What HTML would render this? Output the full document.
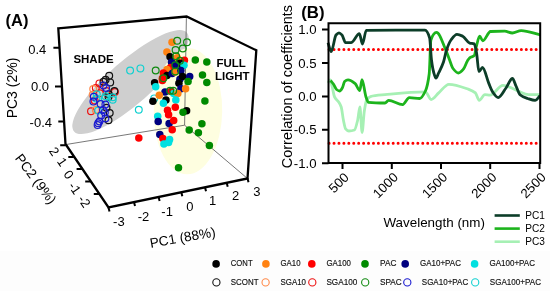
<!DOCTYPE html>
<html><head><meta charset="utf-8"><style>
html,body{margin:0;padding:0;background:#fff;width:550px;height:291px;overflow:hidden}
svg{display:block;will-change:transform}
text{font-family:"Liberation Sans",sans-serif}
</style></head><body>
<svg width="550" height="291" viewBox="0 0 550 291">
<rect x="0" y="251" width="550" height="40" fill="#fdfdfd"/>
<text x="5.5" y="25.6" font-size="16.5" text-anchor="start" font-weight="bold" fill="#000">(A)</text>
<ellipse cx="130.5" cy="82.05" rx="75" ry="21.5" transform="rotate(-41.18 130.5 82.05)" fill="#cfcfcf"/>
<ellipse cx="188" cy="111.3" rx="34.2" ry="63" transform="rotate(1 188 111.3)" fill="#fefee0"/>
<path d="M186.4 16.5 L184.6 125.2 M65.5 144.6 L184.6 125.2 L247.5 178.5" stroke="#555" stroke-width="0.8" fill="none"/>
<circle cx="154.2" cy="98.4" r="3.4" fill="none" stroke="#10d0d0" stroke-width="1.2"/>
<circle cx="172" cy="42.3" r="3.75" fill="#ff8212"/>
<circle cx="166.9" cy="52.1" r="3.75" fill="#ff8212"/>
<circle cx="170" cy="56.7" r="3.75" fill="#000"/>
<circle cx="177.2" cy="57.7" r="3.75" fill="#ff8212"/>
<circle cx="184.4" cy="60.3" r="3.75" fill="#ff0000"/>
<circle cx="171.5" cy="62.3" r="3.75" fill="#000080"/>
<circle cx="179.9" cy="63.2" r="3.75" fill="#000"/>
<circle cx="184" cy="65.3" r="3.75" fill="#00e0e0"/>
<circle cx="170.6" cy="67.4" r="3.75" fill="#ff0000"/>
<circle cx="167" cy="69.4" r="3.75" fill="#ff8212"/>
<circle cx="163.4" cy="73" r="3.75" fill="#ff0000"/>
<circle cx="167" cy="75.6" r="3.75" fill="#000"/>
<circle cx="162.4" cy="78.2" r="3.75" fill="#ff0000"/>
<circle cx="172.2" cy="73.6" r="3.75" fill="#000080"/>
<circle cx="175.5" cy="65" r="3.75" fill="#000080"/>
<circle cx="175.3" cy="72" r="3.75" fill="#ff8212"/>
<circle cx="180.9" cy="70.5" r="3.75" fill="#000080"/>
<circle cx="179.9" cy="79.2" r="3.75" fill="#000080"/>
<circle cx="182.5" cy="76.6" r="3.75" fill="#000"/>
<circle cx="189.7" cy="76.6" r="3.75" fill="#000080"/>
<circle cx="154.6" cy="82.8" r="3.75" fill="#000"/>
<circle cx="178.9" cy="83.2" r="3.75" fill="#000"/>
<circle cx="155.7" cy="86.7" r="3.75" fill="#00e0e0"/>
<circle cx="162.4" cy="80.5" r="3.75" fill="#ff0000"/>
<circle cx="180.9" cy="88.8" r="3.75" fill="#000080"/>
<circle cx="185.6" cy="88.8" r="3.75" fill="#ff8212"/>
<circle cx="188.1" cy="81.5" r="3.75" fill="#008a00"/>
<circle cx="165" cy="91.9" r="3.75" fill="#000080"/>
<circle cx="171.1" cy="91.3" r="3.75" fill="#ff0000"/>
<circle cx="173.7" cy="93.4" r="3.75" fill="#00e0e0"/>
<circle cx="159.3" cy="95.2" r="3.75" fill="#ff8212"/>
<circle cx="177.8" cy="93.4" r="3.75" fill="#ff8212"/>
<circle cx="152.9" cy="101.3" r="3.75" fill="#000"/>
<circle cx="166" cy="100.1" r="3.75" fill="#000"/>
<circle cx="163.4" cy="103.2" r="3.75" fill="#00e0e0"/>
<circle cx="175.8" cy="100.1" r="3.75" fill="#00e0e0"/>
<circle cx="175.3" cy="107.2" r="3.75" fill="#ff0000"/>
<circle cx="167.5" cy="110.3" r="3.75" fill="#ff0000"/>
<circle cx="168.6" cy="114.8" r="3.75" fill="#ff0000"/>
<circle cx="186.6" cy="110.7" r="3.75" fill="#000"/>
<circle cx="183" cy="112.2" r="3.75" fill="#008a00"/>
<circle cx="157.7" cy="116.3" r="3.75" fill="#00e0e0"/>
<circle cx="158.2" cy="121.5" r="3.75" fill="#000080"/>
<circle cx="169.1" cy="123.6" r="3.75" fill="#000080"/>
<circle cx="173.7" cy="120.5" r="3.75" fill="#ff0000"/>
<circle cx="172.2" cy="129.7" r="3.75" fill="#ff0000"/>
<circle cx="159.8" cy="134.6" r="3.75" fill="#000080"/>
<circle cx="162.9" cy="138.4" r="3.75" fill="#ff0000"/>
<circle cx="169.6" cy="139.4" r="3.75" fill="#00e0e0"/>
<circle cx="168.6" cy="142.5" r="3.75" fill="#00e0e0"/>
<circle cx="163.9" cy="144.1" r="3.75" fill="#00e0e0"/>
<circle cx="138.8" cy="138" r="3.75" fill="#ff0000"/>
<circle cx="195.3" cy="60" r="3.75" fill="#008a00"/>
<circle cx="206.8" cy="62" r="3.75" fill="#008a00"/>
<circle cx="202.5" cy="74.9" r="3.75" fill="#008a00"/>
<circle cx="206.8" cy="82.6" r="3.75" fill="#008a00"/>
<circle cx="204.9" cy="101.1" r="3.75" fill="#008a00"/>
<circle cx="201.9" cy="123.8" r="3.75" fill="#008a00"/>
<circle cx="198.4" cy="132.7" r="3.75" fill="#008a00"/>
<circle cx="189.2" cy="130" r="3.75" fill="#008a00"/>
<circle cx="209.4" cy="145.6" r="3.75" fill="#008a00"/>
<circle cx="178.5" cy="167.7" r="3.75" fill="#008a00"/>
<circle cx="177.2" cy="40.7" r="3.4" fill="none" stroke="#108a10" stroke-width="1.2"/>
<circle cx="187" cy="42.3" r="3.4" fill="none" stroke="#108a10" stroke-width="1.2"/>
<circle cx="175.6" cy="50" r="3.4" fill="none" stroke="#108a10" stroke-width="1.2"/>
<circle cx="182.8" cy="48.5" r="3.4" fill="none" stroke="#108a10" stroke-width="1.2"/>
<circle cx="176.1" cy="56.2" r="3.4" fill="none" stroke="#108a10" stroke-width="1.2"/>
<circle cx="179.9" cy="60.7" r="3.4" fill="none" stroke="#108a10" stroke-width="1.2"/>
<circle cx="175.3" cy="65.3" r="3.4" fill="none" stroke="#108a10" stroke-width="1.2"/>
<circle cx="175.3" cy="71.5" r="3.4" fill="none" stroke="#108a10" stroke-width="1.2"/>
<circle cx="163.4" cy="78.2" r="3.4" fill="none" stroke="#108a10" stroke-width="1.2"/>
<circle cx="170.1" cy="90.8" r="3.4" fill="none" stroke="#108a10" stroke-width="1.2"/>
<circle cx="173.2" cy="90.8" r="3.4" fill="none" stroke="#108a10" stroke-width="1.2"/>
<circle cx="155.7" cy="70.5" r="3.4" fill="none" stroke="#108a10" stroke-width="1.2"/>
<circle cx="130.1" cy="70.6" r="3.4" fill="none" stroke="#10d0d0" stroke-width="1.2"/>
<circle cx="140.4" cy="68.4" r="3.4" fill="none" stroke="#10d0d0" stroke-width="1.2"/>
<circle cx="138.8" cy="109.7" r="3.4" fill="none" stroke="#10d0d0" stroke-width="1.2"/>
<circle cx="99.4" cy="83.4" r="3.4" fill="none" stroke="#ee1111" stroke-width="1.2"/>
<circle cx="95.8" cy="88" r="3.4" fill="none" stroke="#ee1111" stroke-width="1.2"/>
<circle cx="106.6" cy="91.1" r="3.4" fill="none" stroke="#ee1111" stroke-width="1.2"/>
<circle cx="114.9" cy="92.1" r="3.4" fill="none" stroke="#ee1111" stroke-width="1.2"/>
<circle cx="99.9" cy="93.2" r="3.4" fill="none" stroke="#ee1111" stroke-width="1.2"/>
<circle cx="94.6" cy="100.4" r="3.4" fill="none" stroke="#ee1111" stroke-width="1.2"/>
<circle cx="91" cy="111.2" r="3.4" fill="none" stroke="#ee1111" stroke-width="1.2"/>
<circle cx="93.2" cy="89" r="3.4" fill="none" stroke="#ff8a4a" stroke-width="1.2"/>
<circle cx="92.7" cy="94.7" r="3.4" fill="none" stroke="#ff8a4a" stroke-width="1.2"/>
<circle cx="95.8" cy="110" r="3.4" fill="none" stroke="#ff8a4a" stroke-width="1.2"/>
<circle cx="109.2" cy="75.7" r="3.4" fill="none" stroke="#111" stroke-width="1.2"/>
<circle cx="105.6" cy="79.8" r="3.4" fill="none" stroke="#111" stroke-width="1.2"/>
<circle cx="110.2" cy="82.4" r="3.4" fill="none" stroke="#111" stroke-width="1.2"/>
<circle cx="103.5" cy="81.8" r="3.4" fill="none" stroke="#111" stroke-width="1.2"/>
<circle cx="114.4" cy="91.1" r="3.4" fill="none" stroke="#111" stroke-width="1.2"/>
<circle cx="108.7" cy="94.2" r="3.4" fill="none" stroke="#111" stroke-width="1.2"/>
<circle cx="108.5" cy="96.8" r="3.4" fill="none" stroke="#111" stroke-width="1.2"/>
<circle cx="109.7" cy="113" r="3.4" fill="none" stroke="#111" stroke-width="1.2"/>
<circle cx="108.5" cy="120.3" r="3.4" fill="none" stroke="#111" stroke-width="1.2"/>
<circle cx="106.5" cy="107.7" r="3.4" fill="none" stroke="#111" stroke-width="1.2"/>
<circle cx="96.8" cy="94.2" r="3.4" fill="none" stroke="#10d0d0" stroke-width="1.2"/>
<circle cx="105.6" cy="96.3" r="3.4" fill="none" stroke="#10d0d0" stroke-width="1.2"/>
<circle cx="112.8" cy="97.3" r="3.4" fill="none" stroke="#10d0d0" stroke-width="1.2"/>
<circle cx="96.4" cy="98.6" r="3.4" fill="none" stroke="#10d0d0" stroke-width="1.2"/>
<circle cx="104.8" cy="98.6" r="3.4" fill="none" stroke="#10d0d0" stroke-width="1.2"/>
<circle cx="112.7" cy="99.8" r="3.4" fill="none" stroke="#10d0d0" stroke-width="1.2"/>
<circle cx="98.2" cy="110.6" r="3.4" fill="none" stroke="#10d0d0" stroke-width="1.2"/>
<circle cx="103.5" cy="85.4" r="3.4" fill="none" stroke="#1a1ad0" stroke-width="1.2"/>
<circle cx="106.1" cy="88" r="3.4" fill="none" stroke="#1a1ad0" stroke-width="1.2"/>
<circle cx="93.8" cy="96.8" r="3.4" fill="none" stroke="#1a1ad0" stroke-width="1.2"/>
<circle cx="93.4" cy="101.6" r="3.4" fill="none" stroke="#1a1ad0" stroke-width="1.2"/>
<circle cx="100.6" cy="104" r="3.4" fill="none" stroke="#1a1ad0" stroke-width="1.2"/>
<circle cx="105.4" cy="104.6" r="3.4" fill="none" stroke="#1a1ad0" stroke-width="1.2"/>
<circle cx="103" cy="110" r="3.4" fill="none" stroke="#1a1ad0" stroke-width="1.2"/>
<circle cx="101.2" cy="115.4" r="3.4" fill="none" stroke="#1a1ad0" stroke-width="1.2"/>
<circle cx="104.8" cy="112.4" r="3.4" fill="none" stroke="#1a1ad0" stroke-width="1.2"/>
<circle cx="105.4" cy="118.5" r="3.4" fill="none" stroke="#1a1ad0" stroke-width="1.2"/>
<circle cx="98.2" cy="123.3" r="3.4" fill="none" stroke="#1a1ad0" stroke-width="1.2"/>
<circle cx="99.4" cy="121.5" r="3.4" fill="none" stroke="#1a1ad0" stroke-width="1.2"/>
<circle cx="97.6" cy="125.1" r="3.4" fill="none" stroke="#1a1ad0" stroke-width="1.2"/>
<path d="M58.3 28.4 L186.6 16.5 L256.3 50.3 L247.5 178.5 L108.5 207.5 L65.5 144 Z" stroke="#000" stroke-width="2.3" fill="none" stroke-linejoin="miter"/>
<path d="M53.4 47.7 H59.4 M55 86.5 H61.4 M58.3 121.5 H63.3" stroke="#000" stroke-width="2"/>
<text x="46.3" y="53.5" font-size="13" text-anchor="end" font-weight="normal" fill="#000">0.4</text>
<text x="49" y="91" font-size="13" text-anchor="end" font-weight="normal" fill="#000">0.0</text>
<text x="52" y="127" font-size="13" text-anchor="end" font-weight="normal" fill="#000">-0.4</text>
<text x="17" y="88" font-size="14" text-anchor="middle" font-weight="normal" fill="#000" transform="rotate(-90 17 88)">PC3 (2%)</text>
<path d="M60.2 145.2 H65.7 M68.3 157 H73.8 M76.6 169 H82.1 M85.2 181.5 H90.7 M93.8 194 H99.3 " stroke="#000" stroke-width="2"/>
<text x="54.3" y="151.5" font-size="13" text-anchor="middle" dominant-baseline="central" transform="rotate(55 54.3 151.5)">2</text>
<text x="62.3" y="161.8" font-size="13" text-anchor="middle" dominant-baseline="central" transform="rotate(55 62.3 161.8)">1</text>
<text x="68.7" y="174.6" font-size="13" text-anchor="middle" dominant-baseline="central" transform="rotate(55 68.7 174.6)">0</text>
<text x="74.8" y="188.2" font-size="13" text-anchor="middle" dominant-baseline="central" transform="rotate(55 74.8 188.2)">-1</text>
<text x="84.2" y="201.4" font-size="13" text-anchor="middle" dominant-baseline="central" transform="rotate(55 84.2 201.4)">-2</text>
<text x="35.6" y="179" font-size="13.5" text-anchor="middle" dominant-baseline="central" transform="rotate(53 35.6 179)">PC2 (9%)</text>
<path d="M108.5 207.5 l1 4 M134.0 202.1 l1 4 M158.6 197.0 l1 4 M181.3 192.2 l1 4 M205.0 187.2 l1 4 M226.7 182.7 l1 4 M247.5 178.3 l1 4 " stroke="#000" stroke-width="2"/>
<text x="118.9" y="221.3" font-size="13" text-anchor="middle" dominant-baseline="central">-3</text>
<text x="143.5" y="216.6" font-size="13" text-anchor="middle" dominant-baseline="central">-2</text>
<text x="167.1" y="211.9" font-size="13" text-anchor="middle" dominant-baseline="central">-1</text>
<text x="189.8" y="206.5" font-size="13" text-anchor="middle" dominant-baseline="central">0</text>
<text x="212.7" y="200.3" font-size="13" text-anchor="middle" dominant-baseline="central">1</text>
<text x="235.6" y="195.6" font-size="13" text-anchor="middle" dominant-baseline="central">2</text>
<text x="256.8" y="191.8" font-size="13" text-anchor="middle" dominant-baseline="central">3</text>
<text x="182.6" y="237.7" font-size="13.6" text-anchor="middle" dominant-baseline="central" transform="rotate(-10 182.6 237.7)">PC1 (88%)</text>
<text x="73.4" y="62.8" font-size="11.5" text-anchor="start" font-weight="bold" fill="#000">SHADE</text>
<text x="216.5" y="66.8" font-size="11.5" text-anchor="start" font-weight="bold" fill="#000">FULL</text>
<text x="215" y="80" font-size="11.5" text-anchor="start" font-weight="bold" fill="#000">LIGHT</text>
<text x="301.2" y="18" font-size="16.8" text-anchor="start" font-weight="bold" fill="#000">(B)</text>
<text x="292.5" y="86.6" font-size="14.5" text-anchor="middle" transform="rotate(-90 292.5 86.6)">Correlation of coefficients</text>
<path d="M329.1 49.6 H540 M329.1 143.2 H540" stroke="#ff0000" stroke-width="3" stroke-dasharray="0 4.93" stroke-linecap="round"/>
<path d="M328.0 83.0 C328.77 82.00 329.53 80.00 330.30 80.00 C330.87 80.00 331.43 83.83 332.00 86.00 C332.87 89.31 333.73 95.27 334.60 97.00 C336.07 99.93 337.53 100.06 339.00 102.40 C339.73 103.57 340.47 104.73 341.20 107.00 C341.93 109.27 342.67 116.50 343.40 120.00 C344.13 123.50 344.87 127.92 345.60 128.80 C346.70 130.12 347.80 131.00 348.90 131.00 C350.73 131.00 352.57 130.68 354.40 130.00 C355.50 129.59 356.60 124.50 357.70 120.00 C358.43 117.00 359.17 107.00 359.90 107.00 C360.63 107.00 361.37 132.50 362.10 132.50 C362.83 132.50 363.57 116.04 364.30 111.20 C365.03 106.36 365.77 101.42 366.50 100.20 C367.80 98.04 369.10 96.95 370.40 96.60 C375.27 95.30 380.13 95.16 385.00 94.70 C398.47 93.42 411.93 91.90 425.40 91.90 C427.30 91.90 429.20 99.50 431.10 99.50 C433.63 99.50 436.17 95.07 438.70 92.90 C442.10 89.99 445.50 84.30 448.90 84.30 C455.23 84.30 461.57 86.76 467.90 89.00 C470.40 89.88 472.90 90.70 475.40 92.90 C476.67 94.01 477.93 100.40 479.20 100.40 C481.10 100.40 483.00 94.70 484.90 94.70 C486.60 94.70 488.30 95.20 490.00 95.20 C494.33 95.20 498.67 85.30 503.00 85.30 C508.00 85.30 513.00 89.18 518.00 91.00 C521.50 92.28 525.00 94.70 528.50 94.70 C532.33 94.70 536.17 94.70 540.00 94.70" stroke="#a6f0b4" stroke-width="2.8" fill="none" stroke-linejoin="round"/>
<path d="M330.5 80.5 C331.47 81.67 332.43 82.61 333.40 84.00 C334.43 85.48 335.47 88.71 336.50 89.50 C337.53 90.29 338.57 91.00 339.60 91.00 C340.57 91.00 341.53 89.17 342.50 87.50 C343.20 86.29 343.90 82.26 344.60 81.60 C345.73 80.53 346.87 79.80 348.00 79.80 C350.40 79.80 352.80 81.65 355.20 83.60 C356.73 84.85 358.27 90.60 359.80 90.60 C360.53 90.60 361.27 79.70 362.00 79.70 C363.33 79.70 364.67 93.30 366.00 97.00 C366.83 99.31 367.67 102.21 368.50 102.30 C374.00 102.90 379.50 103.00 385.00 103.00 C386.17 103.00 387.33 100.40 388.50 100.40 C393.23 100.40 397.97 104.60 402.70 104.60 C404.90 104.60 407.10 97.60 409.30 97.60 C412.77 97.60 416.23 98.50 419.70 98.50 C421.60 98.50 423.50 95.01 425.40 91.00 C426.67 88.33 427.93 84.08 429.20 74.00 C429.77 69.49 430.33 41.71 430.90 40.00 C432.77 34.38 434.63 32.40 436.50 32.40 C439.47 32.40 442.43 42.40 445.40 49.00 C446.80 52.11 448.20 56.42 449.60 60.00 C450.73 62.90 451.87 67.03 453.00 68.50 C454.80 70.84 456.60 73.00 458.40 73.00 C460.10 73.00 461.80 70.98 463.50 69.00 C464.80 67.49 466.10 62.99 467.40 60.90 C468.17 59.67 468.93 58.39 469.70 57.80 C471.23 56.62 472.77 57.01 474.30 55.50 C475.07 54.74 475.83 48.14 476.60 45.40 C477.63 41.70 478.67 36.20 479.70 36.20 C480.73 36.20 481.77 40.80 482.80 40.80 C485.37 40.80 487.93 31.62 490.50 31.50 C495.23 31.28 499.97 31.20 504.70 31.20 C507.23 31.20 509.77 33.00 512.30 33.00 C515.27 33.00 518.23 30.60 521.20 30.60 C527.60 30.60 534.00 33.53 540.40 35.00" stroke="#1cb41c" stroke-width="2.8" fill="none" stroke-linejoin="round"/>
<path d="M328.0 42.7 C329.07 45.67 330.13 51.60 331.20 51.60 C332.80 51.60 334.40 36.84 336.00 35.00 C337.00 33.85 338.00 32.80 339.00 32.80 C340.00 32.80 341.00 33.92 342.00 35.00 C343.20 36.29 344.40 42.70 345.60 42.70 C347.40 42.70 349.20 42.70 351.00 42.70 C353.80 42.70 356.60 33.70 359.40 33.70 C360.40 33.70 361.40 44.00 362.40 44.00 C363.70 44.00 365.00 30.31 366.30 30.30 C385.87 30.21 405.43 30.20 425.00 30.20 C426.53 30.20 428.07 32.89 429.60 37.90 C430.23 39.97 430.87 55.12 431.50 60.00 C432.20 65.40 432.90 69.49 433.60 72.00 C434.40 74.87 435.20 78.20 436.00 78.20 C436.87 78.20 437.73 74.82 438.60 73.00 C440.23 69.57 441.87 66.81 443.50 62.00 C444.50 59.06 445.50 52.91 446.50 50.00 C448.00 45.63 449.50 42.01 451.00 40.00 C453.00 37.32 455.00 34.40 457.00 34.40 C458.90 34.40 460.80 35.31 462.70 36.20 C465.03 37.30 467.37 42.44 469.70 43.10 C471.23 43.53 472.77 43.33 474.30 43.90 C475.07 44.18 475.83 49.07 476.60 53.20 C477.37 57.33 478.13 71.70 478.90 71.70 C480.10 71.70 481.30 67.50 482.50 67.50 C484.60 67.50 486.70 78.44 488.80 83.40 C490.07 86.39 491.33 90.08 492.60 91.90 C494.47 94.58 496.33 97.60 498.20 97.60 C500.80 97.60 503.40 91.51 506.00 88.00 C508.13 85.12 510.27 78.50 512.40 78.50 C513.60 78.50 514.80 83.45 516.00 86.00 C517.33 88.84 518.67 93.54 520.00 94.70 C522.53 96.90 525.07 97.66 527.60 98.50 C530.13 99.34 532.67 100.40 535.20 100.40 C536.80 100.40 538.40 97.27 540.00 95.70" stroke="#0c3d28" stroke-width="2.8" fill="none" stroke-linejoin="round"/>
<path d="M328.5 23.3 H540.2 V162.9 H328.5 Z" stroke="#000" stroke-width="2" fill="none"/>
<path d="M322 29.6 H328.5 M322 63.0 H328.5 M322 96.4 H328.5 M322 129.8 H328.5 M322 163.2 H328.5 " stroke="#000" stroke-width="2"/>
<text x="316.5" y="29.6" font-size="13.2" text-anchor="end" dominant-baseline="central">1.0</text>
<text x="316.5" y="63.0" font-size="13.2" text-anchor="end" dominant-baseline="central">0.5</text>
<text x="316.5" y="96.4" font-size="13.2" text-anchor="end" dominant-baseline="central">0.0</text>
<text x="316.5" y="129.8" font-size="13.2" text-anchor="end" dominant-baseline="central">-0.5</text>
<text x="316.5" y="163.2" font-size="13.2" text-anchor="end" dominant-baseline="central">-1.0</text>
<path d="M342.5 163 V169 M391.8 163 V169 M441.0 163 V169 M490.2 163 V169 M539.5 163 V169 " stroke="#000" stroke-width="2"/>
<text x="346.5" y="175" font-size="13.2" text-anchor="end" dominant-baseline="central" transform="rotate(-45 346.5 175)">500</text>
<text x="395.75" y="175" font-size="13.2" text-anchor="end" dominant-baseline="central" transform="rotate(-45 395.75 175)">1000</text>
<text x="445.0" y="175" font-size="13.2" text-anchor="end" dominant-baseline="central" transform="rotate(-45 445.0 175)">1500</text>
<text x="494.25" y="175" font-size="13.2" text-anchor="end" dominant-baseline="central" transform="rotate(-45 494.25 175)">2000</text>
<text x="543.5" y="175" font-size="13.2" text-anchor="end" dominant-baseline="central" transform="rotate(-45 543.5 175)">2500</text>
<text x="434.2" y="226.5" font-size="13.4" text-anchor="middle" font-weight="normal" fill="#000">Wavelength (nm)</text>
<path d="M494.6 215.5 H519.8" stroke="#0c3d28" stroke-width="2.6"/>
<text x="525.3" y="215.5" font-size="10.1" dominant-baseline="central">PC1</text>
<path d="M494.6 228.6 H519.8" stroke="#1cb41c" stroke-width="2.6"/>
<text x="525.3" y="228.6" font-size="10.1" dominant-baseline="central">PC2</text>
<path d="M494.6 241.7 H519.8" stroke="#a6f0b4" stroke-width="2.6"/>
<text x="525.3" y="241.7" font-size="10.1" dominant-baseline="central">PC3</text>
<circle cx="216.1" cy="263.9" r="3.8" fill="#000"/>
<text x="230.8" y="266.1" font-size="8.6" textLength="21.8" lengthAdjust="spacingAndGlyphs" fill="#111" stroke="#111" stroke-width="0.15">CONT</text>
<circle cx="265.9" cy="263.9" r="3.8" fill="#ff8212"/>
<text x="280.5" y="266.1" font-size="8.6" textLength="20" lengthAdjust="spacingAndGlyphs" fill="#111" stroke="#111" stroke-width="0.15">GA10</text>
<circle cx="311.8" cy="263.9" r="3.8" fill="#ff0000"/>
<text x="326.4" y="266.1" font-size="8.6" textLength="24.5" lengthAdjust="spacingAndGlyphs" fill="#111" stroke="#111" stroke-width="0.15">GA100</text>
<circle cx="365" cy="263.9" r="3.8" fill="#008a00"/>
<text x="380" y="266.1" font-size="8.6" textLength="16.4" lengthAdjust="spacingAndGlyphs" fill="#111" stroke="#111" stroke-width="0.15">PAC</text>
<circle cx="405.2" cy="263.9" r="3.8" fill="#000080"/>
<text x="420" y="266.1" font-size="8.6" textLength="40.9" lengthAdjust="spacingAndGlyphs" fill="#111" stroke="#111" stroke-width="0.15">GA10+PAC</text>
<circle cx="474.6" cy="263.9" r="3.8" fill="#00e0e0"/>
<text x="489.5" y="266.1" font-size="8.6" textLength="45.5" lengthAdjust="spacingAndGlyphs" fill="#111" stroke="#111" stroke-width="0.15">GA100+PAC</text>
<circle cx="216.4" cy="282.4" r="3.6" fill="none" stroke="#111" stroke-width="1.1"/>
<text x="230.8" y="284.8" font-size="8.6" textLength="27.8" lengthAdjust="spacingAndGlyphs" fill="#111" stroke="#111" stroke-width="0.15">SCONT</text>
<circle cx="265.6" cy="282.4" r="3.6" fill="none" stroke="#ff8a4a" stroke-width="1.1"/>
<text x="280.5" y="284.8" font-size="8.6" textLength="25.5" lengthAdjust="spacingAndGlyphs" fill="#111" stroke="#111" stroke-width="0.15">SGA10</text>
<circle cx="312.3" cy="282.4" r="3.6" fill="none" stroke="#ee1111" stroke-width="1.1"/>
<text x="326.4" y="284.8" font-size="8.6" textLength="30.9" lengthAdjust="spacingAndGlyphs" fill="#111" stroke="#111" stroke-width="0.15">SGA100</text>
<circle cx="365.2" cy="282.4" r="3.6" fill="none" stroke="#108a10" stroke-width="1.1"/>
<text x="380" y="284.8" font-size="8.6" textLength="21.8" lengthAdjust="spacingAndGlyphs" fill="#111" stroke="#111" stroke-width="0.15">SPAC</text>
<circle cx="407.3" cy="282.4" r="3.6" fill="none" stroke="#1a1ad0" stroke-width="1.1"/>
<text x="421.8" y="284.8" font-size="8.6" textLength="46.4" lengthAdjust="spacingAndGlyphs" fill="#111" stroke="#111" stroke-width="0.15">SGA10+PAC</text>
<circle cx="475.2" cy="282.4" r="3.6" fill="none" stroke="#10d0d0" stroke-width="1.1"/>
<text x="489.8" y="284.8" font-size="8.6" textLength="51.2" lengthAdjust="spacingAndGlyphs" fill="#111" stroke="#111" stroke-width="0.15">SGA100+PAC</text>
</svg>
</body></html>
